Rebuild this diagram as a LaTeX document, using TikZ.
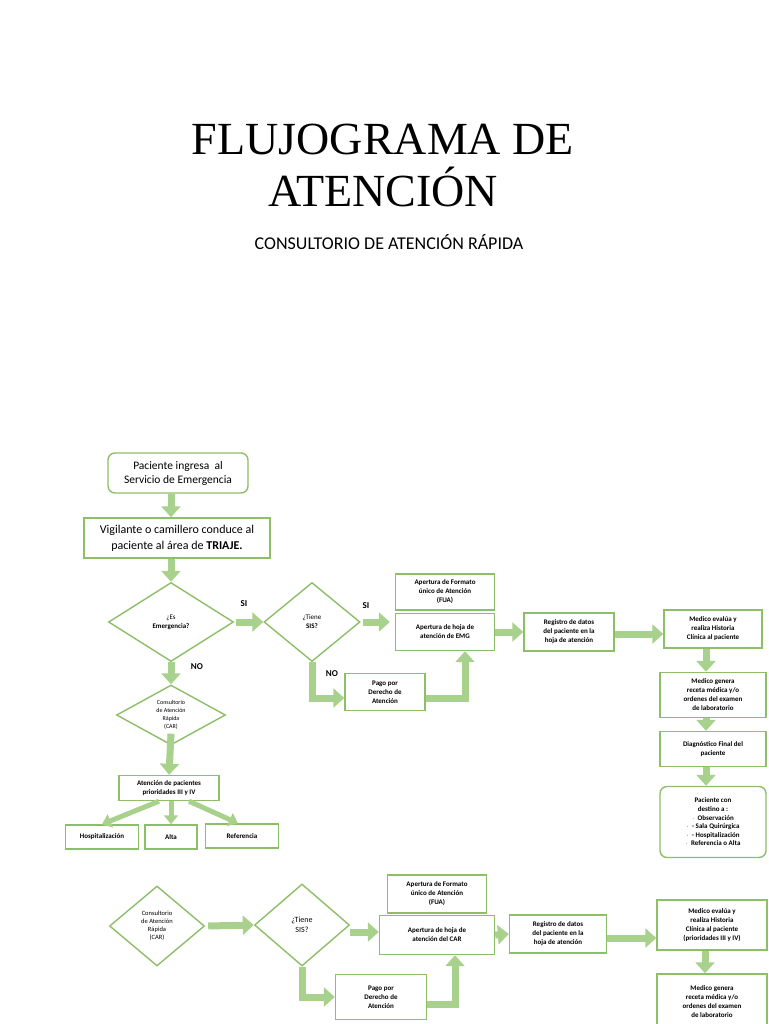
\documentclass[tikz,border=0pt]{standalone}
\usepackage{fontspec}
\setmainfont{Carlito}
\newfontfamily\titlefont{Liberation Serif}
\usetikzlibrary{shapes.geometric}
\usetikzlibrary{positioning}
\usetikzlibrary{arrows.meta}
\definecolor{bordegreen}{RGB}{141,190,104}
\definecolor{flechagreen}{RGB}{169,209,142}
\tikzset{
    caja/.style={ % Sets the properties for each box
    draw=bordegreen, line width=1.4pt, fill=white,
    align=center, inner sep=2pt,
    font=\fontsize{7}{9}\selectfont\bfseries},
    redonda/.style={caja, rounded corners=7pt},
    rombo/.style={caja, diamond, inner sep=0pt},
    flecha/.style={ % Thick green block arrows
    draw=flechagreen, line width=7pt,
    -{Triangle[length=11pt,width=19pt]}},
    flechita/.style={flecha, line width=5pt, -{Triangle[length=9pt,width=14pt]}},
    etiqueta/.style={font=\fontsize{9}{10}\selectfont\bfseries}}
\begin{document}
\begin{tikzpicture}[x=1pt,y=-1pt]
        \useasboundingbox (0,0) rectangle (768,1024);
        \clip (0,0) rectangle (768,1024);

        % Title
        \node[font=\titlefont\fontsize{46}{52}\selectfont, align=center] (titulo) at (383,165) {FLUJOGRAMA DE\\ATENCIÓN};
        \node[font=\fontsize{18}{20}\selectfont] (subtitulo) at (389,242) {CONSULTORIO DE ATENCIÓN RÁPIDA};

        % Upper flow, left column
        \node[redonda, minimum width=140pt, minimum height=40pt, font=\fontsize{11.5}{14}\selectfont] (ingreso) at (178,473) {Paciente ingresa\ \ al\\Servicio de Emergencia};
        \node[caja, minimum width=186pt, minimum height=40pt, font=\fontsize{12}{16}\selectfont] (triaje) at (177,538) {Vigilante o camillero conduce al\\paciente al área de \textbf{TRIAJE.}};
        \node[rombo, minimum width=125pt, minimum height=79pt] (emerg) at (171,622) {\mdseries ¿Es\\Emergencia?};
        \node[rombo, minimum width=96pt, minimum height=79pt] (sis) at (312,622) {\mdseries ¿Tiene\\SIS?};
        \node[rombo, minimum width=109pt, minimum height=60pt, font=\fontsize{6}{8}\selectfont] (car) at (171,715) {Consultorio\\de Atención\\Rápida\\(CAR)};
        \node[caja, minimum width=100pt, minimum height=25pt] (prioridad) at (169,788) {Atención de pacientes\\prioridades III y IV};
        \node[caja, minimum width=73pt, minimum height=24pt] (hosp) at (102,837) {Hospitalización};
        \node[caja, minimum width=52pt, minimum height=24pt] (alta) at (171,837) {Alta};
        \node[caja, minimum width=73pt, minimum height=24pt] (refer) at (242,836) {Referencia};

        % Upper flow, right part
        \node[caja, minimum width=99pt, minimum height=36pt] (fua) at (445,592) {Apertura de Formato\\único de Atención\\(FUA)};
        \node[caja, minimum width=99pt, minimum height=37pt] (emg) at (445,632) {Apertura de hoja de\\atención de EMG};
        \node[caja, minimum width=80pt, minimum height=37pt] (pago) at (385,692) {Pago por\\Derecho de\\Atención};
        \node[caja, minimum width=90pt, minimum height=38pt] (registro) at (569,632) {Registro de datos\\del paciente en la\\hoja de atención};
        \node[caja, minimum width=98pt, minimum height=38pt] (medico) at (713,629) {Medico evalúa y\\realiza Historia\\Clínica al paciente};
        \node[caja, minimum width=106pt, minimum height=45pt] (receta) at (713,695) {Medico genera\\receta médica y/o\\ordenes del examen\\de laboratorio};
        \node[caja, minimum width=106pt, minimum height=35pt] (diag) at (713,749) {Diagnóstico Final del\\paciente};
        \node[redonda, minimum width=106pt, minimum height=71pt, font=\fontsize{7}{8.6}\selectfont\bfseries] (destino) at (713,822) {Paciente con\\destino a :\\$\cdot$\ \ Observación\\$\cdot$\ \ - Sala Quirúrgica\\$\cdot$\ \ - Hospitalización\\$\cdot$\ \ Referencia o Alta};

        % Lower flow
        \node[rombo, minimum width=95pt, minimum height=80pt, font=\fontsize{6.5}{8}\selectfont\mdseries] (car2) at (157,926) {Consultorio\\de Atención\\Rápida\\(CAR)};
        \node[rombo, minimum width=95pt, minimum height=82pt, font=\fontsize{8}{10}\selectfont\mdseries] (sis2) at (302,925) {¿Tiene\\SIS?};
        \node[caja, minimum width=99pt, minimum height=38pt] (fua2) at (437,894) {Apertura de Formato\\único de Atención\\(FUA)};
        \node[caja, minimum width=115pt, minimum height=39pt] (carhoja) at (437,935) {Apertura de hoja de\\atención del CAR};
        \node[caja, minimum width=91pt, minimum height=45pt] (pago2) at (381,997) {Pago por\\Derecho de\\Atención};
        \node[caja, minimum width=97pt, minimum height=38pt] (registro2) at (558,934) {Registro de datos\\del paciente en la\\hoja de atención};
        \node[caja, minimum width=110pt, minimum height=50pt] (medico2) at (712,925) {Medico evalúa y\\realiza Historia\\Clínica al paciente\\(prioridades III y IV)};
        \node[caja, minimum width=110pt, minimum height=56pt] (receta2) at (712,1002) {Medico genera\\receta médica y/o\\ordenes del examen\\de laboratorio};

        % Arrows, upper flow
        \draw[flecha] (ingreso.south -| triaje) ++(-6,0) coordinate (a1) -- (a1 |- triaje.north);
        \draw[flecha] (triaje.south) ++(-6,0) coordinate (a2) -- (a2 |- emerg.north);
        \draw[flecha] (emerg.east) ++(2,0) -- (sis.west);
        \draw[flecha] (sis.east) ++(2,0) -- ([xshift=-5pt]sis.east -| fua.west);
        \draw[flecha] (emerg.south) -- (car.north);
        \draw[flecha] (sis.south) |- ([yshift=-6pt]pago.west);
        \draw[flecha] ([yshift=-6pt]pago.east) -| ([xshift=20pt]emg.south);
        \draw[flecha] (emg.east) -- (registro.west);
        \draw[flecha] ([yshift=-2pt]registro.east) -- ([yshift=-2pt]registro.east -| medico.west);
        \draw[flecha] ([xshift=-7pt]medico.south) -- ([xshift=-7pt]receta.north);
        \draw[flecha] ([xshift=-7pt]receta.south) -- ([xshift=-7pt]diag.north);
        \draw[flecha] ([xshift=-7pt]diag.south) -- ([xshift=-7pt]destino.north);
        \draw[flecha] ([yshift=12pt]car.south) -- (prioridad.north);
        \draw[flechita] ([xshift=-10pt]prioridad.south) -- (hosp.north);
        \draw[flechita] ([xshift=2pt]prioridad.south) -- (alta.north);
        \draw[flechita] ([xshift=20pt]prioridad.south) -- ([xshift=-4pt]refer.north);

        % Arrows, lower flow
        \draw[flecha] (car2.east) ++(3,0) -- (sis2.west);
        \draw[flecha] ([yshift=-7pt]sis2.east) -- ([yshift=-7pt]sis2.east -| carhoja.west);
        \draw[flecha] (sis2.south) |- (pago2.west);
        \draw[flecha] ([yshift=-7pt]pago2.east) -| ([xshift=18pt]carhoja.south);
        \draw[flecha] (carhoja.east) -- (registro2.west);
        \draw[flecha] ([yshift=-4pt]registro2.east) -- ([yshift=-4pt]registro2.east -| medico2.west);
        \draw[flecha] ([xshift=-7pt]medico2.south) -- ([xshift=-7pt]receta2.north);

        % Branch labels
        \node[etiqueta] (si1) at (244,604) {SI};
        \node[etiqueta] (si2) at (366,606) {SI};
        \node[etiqueta] (no1) at (197,667) {NO};
        \node[etiqueta] (no2) at (332,674) {NO};
    \end{tikzpicture}
\end{document}
